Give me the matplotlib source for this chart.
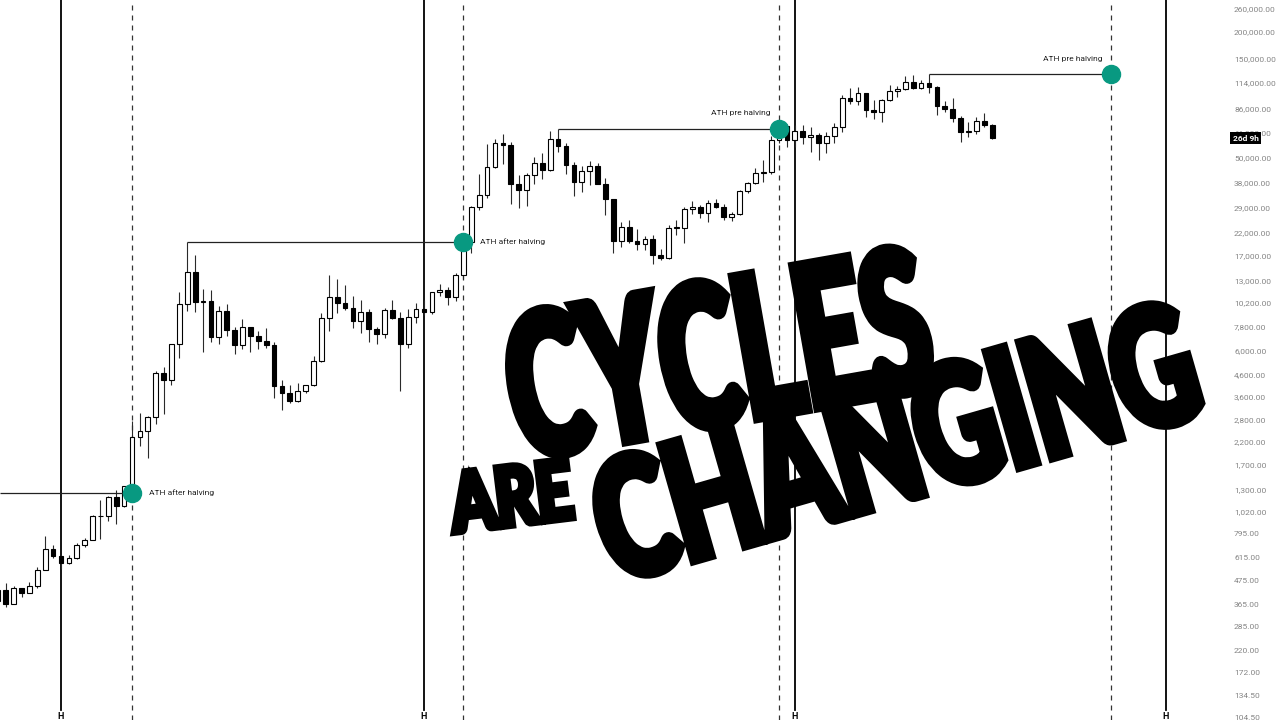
import matplotlib
matplotlib.use('Agg')
import matplotlib.pyplot as plt
import matplotlib.patheffects as pe
from matplotlib.transforms import Affine2D
import numpy as np
import pandas as pd

# BTC/USD monthly candles, Dec 2015 .. Jun 2026
first_month = '2015-12'
opens = [378,
         430, 368, 437, 416, 448, 531, 673, 624, 575, 609, 700, 745,
         963, 970, 1190, 1080, 1348, 2300, 2480, 2875, 4700, 4340, 6450, 9950,
         14150, 10220, 10330, 6930, 9240, 7490, 6390, 7730, 7010, 6630, 6370, 4040,
         3740, 3450, 3820, 4100, 5320, 8570, 10820, 10090, 9600, 8290, 9150, 7570,
         7190, 9350, 8540, 6410, 8620, 9450, 9140, 11350, 11660, 10780, 13800, 19700,
         28990, 33140, 45200, 58800, 57750, 37300, 35040, 41460, 47100, 43820, 61300, 57000,
         46200, 38480, 43160, 45530, 37640, 31800, 19940, 23300, 20050, 19430, 20490, 17170,
         16540, 23130, 23150, 28480, 29250, 27220, 30480, 29230, 25940, 26970, 34660, 37720,
         42280, 42580, 61200, 71300, 60660, 67500, 62680, 64600, 58970, 63300, 70200, 96400,
         93430, 102400, 84350, 82550, 94200, 104600, 107100, 115800, 108250, 114050, 109600, 88900,
         85700, 77300, 66300, 66900, 75100, 72000]
highs = [465,
         462, 448, 439, 468, 550, 780, 704, 626, 629, 720, 757, 975,
         1150, 1200, 1290, 1350, 2760, 2999, 2920, 4760, 4980, 6470, 11400, 19800,
         17200, 11800, 11700, 9800, 9990, 7780, 8500, 7770, 7410, 7670, 6600, 4310,
         4110, 4200, 4100, 5620, 9100, 13800, 13200, 12300, 10950, 10500, 9500, 7750,
         9600, 10500, 9190, 9470, 10070, 10430, 11440, 12470, 12080, 14100, 19850, 29300,
         41950, 58350, 61780, 64900, 59600, 41330, 42400, 50500, 52920, 67000, 69000, 59100,
         47990, 45800, 48200, 47450, 40000, 31950, 24670, 25200, 22800, 21100, 21450, 18390,
         23960, 25250, 29190, 31000, 29820, 31400, 31800, 30200, 27500, 35200, 38420, 44700,
         48970, 63900, 73800, 72800, 71950, 72000, 70000, 65600, 66500, 73600, 99800, 108300,
         109600, 102500, 95000, 95750, 112000, 110400, 123200, 124500, 117900, 126200, 111000, 94000,
         96400, 79000, 74500, 78700, 82300, 72600]
lows = [350,
        354, 365, 395, 412, 436, 531, 606, 537, 570, 604, 684, 739,
        752, 917, 890, 1064, 1346, 2100, 1830, 2670, 2970, 4100, 5500, 9300,
        9200, 5900, 6600, 6430, 7050, 5770, 6080, 5880, 6100, 6180, 3560, 3120,
        3350, 3380, 3730, 4070, 5300, 7450, 9070, 9330, 7700, 7300, 6550, 6430,
        6860, 8450, 3850, 6150, 8120, 8830, 8990, 10950, 9880, 10370, 13200, 17600,
        28130, 32300, 44950, 47000, 30000, 28800, 29280, 37330, 39600, 43300, 53250, 42000,
        32900, 34300, 37200, 37700, 26700, 17600, 18800, 19600, 18150, 18200, 15480, 16300,
        16500, 21400, 19570, 26950, 25800, 24800, 28860, 25300, 24900, 26540, 34100, 37600,
        38500, 41880, 59000, 56500, 56600, 58400, 53500, 49000, 52550, 58900, 66800, 90500,
        89200, 78200, 76600, 74400, 93400, 98200, 105100, 107300, 107300, 102000, 80200, 83200,
        74500, 59800, 62800, 65200, 70500, 61400]
closes = [430,
          368, 437, 416, 448, 531, 673, 624, 575, 609, 700, 745, 963,
          970, 1190, 1080, 1348, 2300, 2480, 2875, 4700, 4340, 6450, 9950, 14150,
          10220, 10330, 6930, 9240, 7490, 6390, 7730, 7010, 6630, 6370, 4040, 3740,
          3450, 3820, 4100, 5320, 8570, 10820, 10090, 9600, 8290, 9150, 7570, 7190,
          9350, 8540, 6410, 8620, 9450, 9140, 11350, 11660, 10780, 13800, 19700, 28990,
          33140, 45200, 58800, 57750, 37300, 35040, 41460, 47100, 43820, 61300, 57000, 46200,
          38480, 43160, 45530, 37640, 31800, 19940, 23300, 20050, 19430, 20490, 17170, 16540,
          23130, 23150, 28480, 29250, 27220, 30480, 29230, 25940, 26970, 34660, 37720, 42280,
          42580, 61200, 71300, 60660, 67500, 62680, 64600, 58970, 63300, 70200, 96400, 93430,
          102400, 84350, 82550, 94200, 104600, 107100, 115800, 108250, 114050, 109600, 88900, 85700,
          77300, 66300, 66900, 75100, 72000, 62000]

halving_months = ['2016-08', '2020-06', '2024-05', '2028-04']
ath_break_months = ['2017-05', '2020-11', '2024-03', '2027-09']
ath_from_months = [None, '2017-12', '2021-11', '2025-10']   # None = older than the chart
ath_levels = [1250, 19800, 69000, 126200]
ath_labels = ['ATH after halving', 'ATH after halving', 'ATH pre halving', 'ATH pre halving']

price_ticks = [104.5, 134.5, 172, 220, 285, 365, 475, 615, 795, 1020, 1300, 1700,
               2200, 2800, 3600, 4600, 6000, 7800, 10200, 13000, 17000, 22000, 29000,
               38000, 50000, 66000, 86000, 114000, 150000, 200000, 260000]
countdown = '26d 9h'
countdown_price = 62000


def mx(m):
    # month -> x position (one unit per monthly candle)
    return (pd.Period(m, freq='M') - pd.Period(first_month, freq='M')).n


class Stretch(pe.AbstractPathEffect):
    # make glyphs taller (from the baseline) and fatten them with an outline
    def __init__(self, sy, lw):
        super().__init__()
        self.sy = sy
        self.lw = lw

    def draw_path(self, renderer, gc, tpath, affine, rgbFace=None):
        gc0 = renderer.new_gc()
        gc0.copy_properties(gc)
        gc0.set_linewidth(self.lw)
        gc0.set_foreground('black')
        gc0.set_joinstyle('miter')
        renderer.draw_path(gc0, tpath, Affine2D().scale(1, self.sy) + affine, rgbFace)
        gc0.restore()


W, H = 1280, 720
fig = plt.figure(figsize=(12.8, 7.2), dpi=100)
ax_right = 1225
ax = fig.add_axes([0, 0, ax_right / W, 1])
ax.set_yscale('log')
px = 7.891  # pixels per candle
ax.set_xlim(2.13 / px, (ax_right + 2.13) / px)
ax.set_ylim(102.2, 284750)

# candles
x = np.arange(len(opens))
o = np.array(opens, float)
c = np.array(closes, float)
up = c >= o
lo = np.minimum(o, c)
body = np.maximum(np.abs(c - o), lo * 0.006)
ax.vlines(x, lows, highs, color='#2a2a2a', lw=0.8, zorder=2)
ax.bar(x, body, bottom=lo, width=0.6, color=np.where(up, 'white', 'black'),
       edgecolor='black', linewidth=0.8, zorder=3)

# halving lines + dashed ATH-break lines
for m in halving_months:
    ax.axvline(mx(m), ymin=0.014, color='black', lw=1.3, zorder=1)
    ax.text(mx(m), 0.011, 'H', transform=ax.get_xaxis_transform(), ha='center',
            va='top', fontsize=6.5, fontweight='bold', family='Roboto')
for m in ath_break_months:
    ax.axvline(mx(m), color='#333333', lw=0.9, ls=(0, (4, 4)), zorder=1)

# ATH levels
for m0, m1, lvl, lab in zip(ath_from_months, ath_break_months, ath_levels, ath_labels):
    x0 = ax.get_xlim()[0] if m0 is None else mx(m0)
    ax.hlines(lvl, x0, mx(m1), color='#222222', lw=0.9, zorder=4)
    ax.plot(mx(m1), lvl, 'o', ms=13, color='#089981', zorder=5)
    if 'after' in lab:
        ax.annotate(lab, (mx(m1), lvl), xytext=(12, 0), textcoords='offset points',
                    ha='left', va='center', fontsize=6, family='Roboto', color='#222222')
    else:
        ax.annotate(lab, (mx(m1), lvl), xytext=(-6, 11), textcoords='offset points',
                    ha='right', va='center', fontsize=6, family='Roboto', color='#222222')

# price scale on the right
ax.yaxis.tick_right()
ax.minorticks_off()
ax.set_yticks(price_ticks)
ax.set_yticklabels([f'{v:,.2f}' for v in price_ticks])
ax.tick_params(axis='y', length=0, pad=6.5, labelsize=6, labelcolor='#858585')
for lbl in ax.get_yticklabels():
    lbl.set_family('Roboto')
ax.set_xticks([])
for s in ax.spines.values():
    s.set_visible(False)

ax.annotate(countdown, (1, countdown_price), xycoords=('axes fraction', 'data'),
            xytext=(15, 0), textcoords='offset points', ha='center', va='center',
            fontsize=6, family='Roboto', fontweight='bold', color='white', zorder=6,
            bbox=dict(boxstyle='square,pad=0.3', fc='black', ec='none'), annotation_clip=False)

# headline
big = [('CYCLES', 730, 423, 10, 84.5, 1.68, 7.2),
       ('ARE', 515, 525, 7, 45.5, 1.29, 5.0),
       ('CHANGING', 911, 498, 16, 82, 1.44, 7.2)]
for txt, bx, by, rot, fs, sy, lw in big:
    fig.text(bx / W, 1 - by / H, txt, rotation=rot, rotation_mode='anchor',
             ha='center', va='baseline', fontsize=fs, family='Lato', fontweight='black',
             color='black', path_effects=[Stretch(sy, lw)], zorder=10)

fig.savefig('out.png', dpi=100)
